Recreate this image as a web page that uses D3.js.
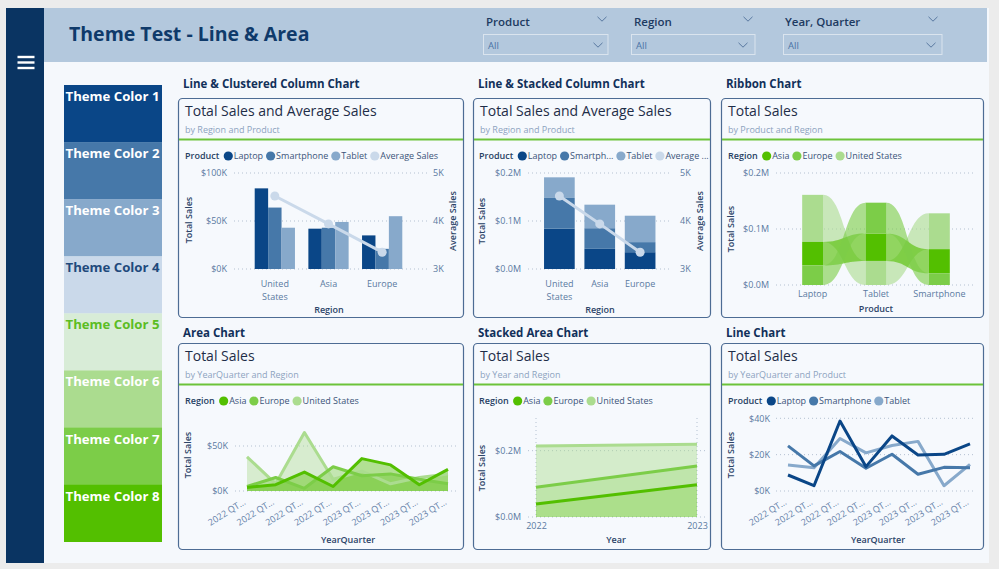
<!DOCTYPE html>
<html><head><meta charset="utf-8">
<script src="https://cdn.jsdelivr.net/npm/d3@7"></script>
<style>
body{margin:0;background:#ececec;overflow:hidden;}
svg text{font-family:"Open Sans","Segoe UI",sans-serif;}
</style></head><body>
<svg id="c" width="999" height="569"></svg>
<script>
// ---------------- DATA ----------------
const themeColors = ["#0a4687","#4678a9","#87a9cb","#cad9ea","#d8ecd7","#abdc8f","#7ccd48","#53bf00"];
const themeLabels = ["Theme Color 1","Theme Color 2","Theme Color 3","Theme Color 4","Theme Color 5","Theme Color 6","Theme Color 7","Theme Color 8"];
const regions = ["United States","Asia","Europe"];
const products = ["Laptop","Smartphone","Tablet"];
// Total sales (K$) by region [United States, Asia, Europe]
const salesLaptop = [84, 42, 35];
const salesSmartphone = [64, 43, 21];
const salesTablet = [43, 49, 55];
// Average sales (K) by region
const avgSales = [4.52, 3.94, 3.35];
const ribbonProducts = ["Laptop","Tablet","Smartphone"];
const quarterKeys = ["2022 Q1","2022 Q2","2022 Q3","2022 Q4","2023 Q1","2023 Q2","2023 Q3","2023 Q4"];
const quarterTickLabels = ["2022 QT...","2022 QT...","2022 QT...","2022 QT...","2023 QT...","2023 QT...","2023 QT...","2023 QT..."];
// Area chart, total sales (K$) by quarter
const areaAsia = [4, 7, 21, 5, 36, 29, 7, 24];
const areaEurope = [5, 15, 3, 27, 17, 19, 13, 8];
const areaUS = [38, 8, 65, 13, 22, 8, 15, 19];
// Stacked area, total sales (K$) by year
const years = [2022, 2023];
const yearAsia = [39, 97];
const yearEurope = [51, 57];
const yearUS = [124, 65];
// Line chart, total sales (K$) by quarter
const lineLaptop = [8.8, 2.9, 38.5, 13.4, 30.3, 19.8, 20.2, 25.9];
const lineSmartphone = [24.8, 13.8, 21.7, 12.5, 20.2, 9.2, 13.0, 12.8];
const lineTablet = [14.3, 12.8, 28.9, 21.0, 25.0, 27.3, 2.9, 14.7];

// ---------------- HELPERS ----------------
const FONT = '"Open Sans","Segoe UI",sans-serif';
const C = themeColors;
const productColor = {Laptop:C[0], Smartphone:C[1], Tablet:C[2]};
const regionColor = {"Asia":C[7], "Europe":C[6], "United States":C[5]};
const byProduct = {Laptop:salesLaptop, Smartphone:salesSmartphone, Tablet:salesTablet};
const TICK = "#5a79a1", AXT = "#2c4468";
const svg = d3.select("#c");

function txt(g, x, y, s, o={}) {
  const t = g.append("text").attr("x",x).attr("y",y).text(s)
    .attr("font-size", o.size||9).attr("fill", o.fill||"#333")
    .attr("font-weight", o.weight||400);
  if (o.anchor) t.attr("text-anchor", o.anchor);
  if (o.rotate) t.attr("transform", `rotate(${o.rotate},${x},${y})`);
  return t;
}
function card(x0,y0,x1,y1,secY,section,title,subtitle){
  txt(svg, x0+5, secY, section, {size:11.5, weight:700, fill:"#12305a"});
  svg.append("rect").attr("x",x0+0.5).attr("y",y0+0.5).attr("width",x1-x0-1).attr("height",y1-y0-1)
    .attr("rx",4).attr("fill","#f6f9fd").attr("stroke","#4d6c94").attr("stroke-width",1.2);
  txt(svg, x0+7, y0+18, title, {size:14, fill:"#1e2d48"});
  txt(svg, x0+7, y0+35, subtitle, {size:9, fill:"#8da3bf"});
  svg.append("line").attr("x1",x0+1).attr("x2",x1-1).attr("y1",y0+41.5).attr("y2",y0+41.5)
    .attr("stroke","#6cc33a").attr("stroke-width",2);
}
function legend(x, y, title, items){
  const t = txt(svg, x, y+3.2, title, {size:9, weight:600, fill:"#263f63"});
  let cx = x + t.node().getComputedTextLength() + 9;
  items.forEach(([label,color])=>{
    svg.append("circle").attr("cx",cx).attr("cy",y).attr("r",4.6).attr("fill",color);
    const tt = txt(svg, cx+5.5, y+3.2, label, {size:9, fill:"#3b5479"});
    cx = cx + 5.5 + tt.node().getComputedTextLength() + 7.5;
  });
}
function grid(ys, x1, x2){
  ys.forEach(y=> svg.append("line").attr("x1",x1).attr("x2",x2).attr("y1",y).attr("y2",y)
    .attr("stroke","#b4c1d1").attr("stroke-width",1).attr("stroke-dasharray","1,3"));
}
function styleAxis(sel){
  sel.attr("font-family",FONT).attr("font-size",9);
  sel.select(".domain").remove();
  sel.selectAll(".tick line").remove();
  sel.selectAll("text").attr("fill",TICK);
}
function wrap(texts, width){
  texts.each(function(){
    const t = d3.select(this);
    if (this.getComputedTextLength() <= width) return;
    const words = t.text().split(/\s+/);
    const y = t.attr("y"), dy = parseFloat(t.attr("dy"));
    t.text(null);
    words.forEach((w,i)=> t.append("tspan").attr("x",0).attr("y",y).attr("dy",(dy+i*1.45)+"em").text(w));
  });
}
function yTitle(x, y, s){ txt(svg, x, y, s, {size:9, weight:600, fill:AXT, anchor:"middle", rotate:-90}); }
function xTitle(x, y, s){ txt(svg, x, y, s, {size:9, weight:600, fill:AXT, anchor:"middle"}); }
function rotatedQuarterAxis(scale, yAxis){
  const a = svg.append("g").attr("transform",`translate(0,${yAxis})`)
    .call(d3.axisBottom(scale).tickSize(0).tickFormat((d,i)=>quarterTickLabels[i]));
  styleAxis(a);
  a.selectAll("text").attr("y",0).attr("dy","0.35em").attr("text-anchor","end")
    .attr("transform","translate(-3,10) rotate(-32)").attr("fill","#6683aa");
}

// ---------------- PAGE FRAME ----------------
svg.append("rect").attr("width",999).attr("height",569).attr("fill","#ececec");
svg.append("rect").attr("x",6).attr("y",8).attr("width",983).attr("height",555).attr("fill","#f5f8fc");
svg.append("rect").attr("x",44).attr("y",8).attr("width",943).attr("height",54).attr("fill","#b3c8dd");
svg.append("rect").attr("x",6).attr("y",8).attr("width",38).attr("height",555).attr("fill","#0a3462");
[57,62.5,68].forEach(y=> svg.append("line").attr("x1",17.5).attr("x2",34.5).attr("y1",y).attr("y2",y)
  .attr("stroke","#ffffff").attr("stroke-width",2.4));
txt(svg, 69, 41, "Theme Test - Line & Area", {size:19.5, weight:700, fill:"#0f3a6a"});

function chevron(cx, cy){
  svg.append("path").attr("d",`M${cx-4.5},${cy-2.2}L${cx},${cy+2.2}L${cx+4.5},${cy-2.2}`)
    .attr("fill","none").attr("stroke","#5878a0").attr("stroke-width",1);
}
const slicers = [
  {label:"Product", lx:486, lc:602, bx:483.5, bw:124.5, bc:598},
  {label:"Region", lx:634, lc:748, bx:631.5, bw:123.5, bc:743},
  {label:"Year, Quarter", lx:785, lc:933, bx:783.5, bw:158.5, bc:931}
];
slicers.forEach(s=>{
  txt(svg, s.lx, 26, s.label, {size:11.5, weight:600, fill:"#1d3a61"});
  chevron(s.lc, 19);
  svg.append("rect").attr("x",s.bx).attr("y",34.5).attr("width",s.bw).attr("height",20)
    .attr("fill","none").attr("stroke","#dae4ee").attr("stroke-width",1);
  txt(svg, s.bx+4.5, 48.5, "All", {size:9.5, fill:"#4a73a5"});
  chevron(s.bc, 45);
});

// ---------------- THEME SWATCHES ----------------
const swH = (541.7-85)/8;
themeColors.forEach((c,i)=>{
  svg.append("rect").attr("x",64).attr("y",85+i*swH).attr("width",98).attr("height",swH+0.3).attr("fill",c);
  const tc = i===3 ? "#1f4a7c" : (i===4 ? "#5cbd23" : "#ffffff");
  txt(svg, 65.5, 85+i*swH+16, themeLabels[i], {size:13.2, weight:700, fill:tc});
});

// ---------------- CHART 1: Line & Clustered Column ----------------
card(178,98,464,318, 87.5, "Line & Clustered Column Chart","Total Sales and Average Sales","by Region and Product");
legend(185,156,"Product",[["Laptop",C[0]],["Smartphone",C[1]],["Tablet",C[2]],["Average Sales",C[3]]]);
{
  const x = d3.scaleBand().domain(regions).range([248,409]).paddingInner(0.25).paddingOuter(0.125);
  const xs = d3.scaleBand().domain(products).range([0,x.bandwidth()]);
  const y = d3.scaleLinear().domain([0,100]).range([269,173]);
  const yr = d3.scaleLinear().domain([3,5]).range([269,173]);
  grid([0,50,100].map(y), 234, 428);
  styleAxis(svg.append("g").attr("transform","translate(230,0)")
    .call(d3.axisLeft(y).tickValues([0,50,100]).tickFormat(d=>`$${d}K`).tickSize(0).tickPadding(3)));
  styleAxis(svg.append("g").attr("transform","translate(430,0)")
    .call(d3.axisRight(yr).tickValues([3,4,5]).tickFormat(d=>`${d}K`).tickSize(0).tickPadding(3)));
  products.forEach(p=>{
    svg.append("g").selectAll("rect").data(regions).join("rect")
      .attr("x",r=>x(r)+xs(p)).attr("width",xs.bandwidth())
      .attr("y",(r,i)=>y(byProduct[p][i])).attr("height",(r,i)=>y(0)-y(byProduct[p][i]))
      .attr("fill",productColor[p]);
  });
  const line = d3.line().x((d,i)=>x(regions[i])+x.bandwidth()/2).y(d=>yr(d));
  svg.append("path").attr("d",line(avgSales)).attr("fill","none").attr("stroke",C[3]).attr("stroke-width",3);
  svg.append("g").selectAll("circle").data(avgSales).join("circle")
    .attr("cx",(d,i)=>x(regions[i])+x.bandwidth()/2).attr("cy",d=>yr(d)).attr("r",4.5).attr("fill",C[3]);
  const ax = svg.append("g").attr("transform","translate(0,269)").call(d3.axisBottom(x).tickSize(0).tickPadding(11.6));
  styleAxis(ax); wrap(ax.selectAll("text"), x.step()-4);
  xTitle(329, 312.5, "Region");
  yTitle(191.5, 220, "Total Sales");
  yTitle(456, 221, "Average Sales");
}

// ---------------- CHART 2: Line & Stacked Column ----------------
card(473,98,711,318, 87.5, "Line & Stacked Column Chart","Total Sales and Average Sales","by Region and Product");
legend(479,156,"Product",[["Laptop",C[0]],["Smartph...",C[1]],["Tablet",C[2]],["Average ...",C[3]]]);
{
  const x = d3.scaleBand().domain(regions).range([540,659.5]).paddingInner(0.24).paddingOuter(0.1);
  const y = d3.scaleLinear().domain([0,200]).range([269,173]);
  const yr = d3.scaleLinear().domain([3,5]).range([269,173]);
  grid([0,100,200].map(y), 528, 672);
  styleAxis(svg.append("g").attr("transform","translate(524,0)")
    .call(d3.axisLeft(y).tickValues([0,100,200]).tickFormat(d=>`$${(d/1000).toFixed(1)}M`).tickSize(0).tickPadding(3)));
  styleAxis(svg.append("g").attr("transform","translate(677,0)")
    .call(d3.axisRight(yr).tickValues([3,4,5]).tickFormat(d=>`${d}K`).tickSize(0).tickPadding(3)));
  const rows = regions.map((r,i)=>({region:r, Laptop:salesLaptop[i], Smartphone:salesSmartphone[i], Tablet:salesTablet[i]}));
  const series = d3.stack().keys(products)(rows);
  series.forEach(s=>{
    svg.append("g").selectAll("rect").data(s).join("rect")
      .attr("x",d=>x(d.data.region)).attr("width",x.bandwidth())
      .attr("y",d=>y(d[1])).attr("height",d=>y(d[0])-y(d[1])).attr("fill",productColor[s.key]);
  });
  const line = d3.line().x((d,i)=>x(regions[i])+x.bandwidth()/2).y(d=>yr(d));
  svg.append("path").attr("d",line(avgSales)).attr("fill","none").attr("stroke",C[3]).attr("stroke-width",3);
  svg.append("g").selectAll("circle").data(avgSales).join("circle")
    .attr("cx",(d,i)=>x(regions[i])+x.bandwidth()/2).attr("cy",d=>yr(d)).attr("r",4.5).attr("fill",C[3]);
  const ax = svg.append("g").attr("transform","translate(0,269)").call(d3.axisBottom(x).tickSize(0).tickPadding(11.6));
  styleAxis(ax); wrap(ax.selectAll("text"), x.step()-4);
  xTitle(600, 312.5, "Region");
  yTitle(485, 221, "Total Sales");
  yTitle(703, 221, "Average Sales");
}

// ---------------- CHART 3: Ribbon ----------------
card(721,98,984,318, 87.5, "Ribbon Chart","Total Sales","by Product and Region");
legend(728,156,"Region",[["Asia",C[7]],["Europe",C[6]],["United States",C[5]]]);
{
  const x = d3.scaleBand().domain(ribbonProducts).range([780,972]).paddingInner(0.67).paddingOuter(0.35);
  const y = d3.scaleLinear().domain([0,200]).range([285,173]);
  grid([0,100,200].map(y), 776, 976);
  styleAxis(svg.append("g").attr("transform","translate(772,0)")
    .call(d3.axisLeft(y).tickValues([0,100,200]).tickFormat(d=>`$${(d/1000).toFixed(1)}M`).tickSize(0).tickPadding(3)));
  const stacks = ribbonProducts.map(p=>{
    const vals = regions.map((r,i)=>({r, v:byProduct[p][i]})).sort((a,b)=>a.v-b.v);
    let acc = 0; const m = {};
    vals.forEach(d=>{ m[d.r] = [acc, acc+d.v]; acc += d.v; });
    return m;
  });
  const bw = x.bandwidth();
  for (let i=0;i<ribbonProducts.length-1;i++){
    const xa = x(ribbonProducts[i])+bw, xb = x(ribbonProducts[i+1]), xm = (xa+xb)/2;
    ["United States","Asia","Europe"].forEach(r=>{
      const [a0,a1] = stacks[i][r], [b0,b1] = stacks[i+1][r];
      const p = `M${xa},${y(a1)}C${xm},${y(a1)} ${xm},${y(b1)} ${xb},${y(b1)}L${xb},${y(b0)}C${xm},${y(b0)} ${xm},${y(a0)} ${xa},${y(a0)}Z`;
      svg.append("path").attr("d",p).attr("fill",regionColor[r]).attr("fill-opacity",0.62);
    });
  }
  ribbonProducts.forEach((p,i)=>{
    regions.forEach(r=>{
      const [v0,v1] = stacks[i][r];
      svg.append("rect").attr("x",x(p)).attr("width",bw).attr("y",y(v1)).attr("height",y(v0)-y(v1)).attr("fill",regionColor[r]);
    });
  });
  const ax = svg.append("g").attr("transform","translate(0,285)").call(d3.axisBottom(x).tickSize(0).tickPadding(6));
  styleAxis(ax);
  xTitle(876, 312, "Product");
  yTitle(734, 229, "Total Sales");
}

// ---------------- CHART 4: Area ----------------
card(178,343,464,550, 336.5, "Area Chart","Total Sales","by YearQuarter and Region");
legend(185,401,"Region",[["Asia",C[7]],["Europe",C[6]],["United States",C[5]]]);
{
  const x = d3.scalePoint().domain(quarterKeys).range([247,448]);
  const y = d3.scaleLinear().domain([0,50]).range([491,446]);
  grid([0,50].map(y), 235, 458);
  styleAxis(svg.append("g").attr("transform","translate(231,0)")
    .call(d3.axisLeft(y).tickValues([0,50]).tickFormat(d=>`$${d}K`).tickSize(0).tickPadding(3)));
  const sers = [["United States",areaUS],["Europe",areaEurope],["Asia",areaAsia]];
  const area = d3.area().x((d,i)=>x(quarterKeys[i])).y0(y(0)).y1(d=>y(d));
  const line = d3.line().x((d,i)=>x(quarterKeys[i])).y(d=>y(d));
  sers.forEach(([r,v])=> svg.append("path").attr("d",area(v)).attr("fill",regionColor[r]).attr("fill-opacity",0.42));
  sers.forEach(([r,v])=> svg.append("path").attr("d",line(v)).attr("fill","none").attr("stroke",regionColor[r]).attr("stroke-width",3).attr("stroke-linejoin","round"));
  rotatedQuarterAxis(x, 491);
  xTitle(348, 543, "YearQuarter");
  yTitle(191, 455, "Total Sales");
}

// ---------------- CHART 5: Stacked Area ----------------
card(473,343,711,550, 336.5, "Stacked Area Chart","Total Sales","by Year and Region");
legend(479,401,"Region",[["Asia",C[7]],["Europe",C[6]],["United States",C[5]]]);
{
  const x = d3.scalePoint().domain(years).range([536,697]);
  const y = d3.scaleLinear().domain([0,300]).range([517,417.5]);
  grid([0,200].map(y), 528, 705);
  years.forEach(yr=> svg.append("line").attr("x1",x(yr)).attr("x2",x(yr)).attr("y1",418).attr("y2",517)
    .attr("stroke","#b4c1d1").attr("stroke-dasharray","1,3"));
  styleAxis(svg.append("g").attr("transform","translate(524,0)")
    .call(d3.axisLeft(y).tickValues([0,200]).tickFormat(d=>`$${(d/1000).toFixed(1)}M`).tickSize(0).tickPadding(3)));
  const rows = years.map((yr,i)=>({year:yr, "Asia":yearAsia[i], "Europe":yearEurope[i], "United States":yearUS[i]}));
  const series = d3.stack().keys(["Asia","Europe","United States"])(rows);
  const area = d3.area().x(d=>x(d.data.year)).y0(d=>y(d[0])).y1(d=>y(d[1]));
  const line = d3.line().x(d=>x(d.data.year)).y(d=>y(d[1]));
  series.forEach(s=> svg.append("path").attr("d",area(s)).attr("fill",regionColor[s.key]).attr("fill-opacity",0.45));
  series.forEach(s=> svg.append("path").attr("d",line(s)).attr("fill","none").attr("stroke",regionColor[s.key]).attr("stroke-width",3));
  const ax = svg.append("g").attr("transform","translate(0,517)").call(d3.axisBottom(x).tickSize(0).tickPadding(5.3).tickFormat(d3.format("d")));
  styleAxis(ax);
  xTitle(616, 543, "Year");
  yTitle(485, 468, "Total Sales");
}

// ---------------- CHART 6: Line ----------------
card(721,343,984,550, 336.5, "Line Chart","Total Sales","by YearQuarter and Product");
legend(728,401,"Product",[["Laptop",C[0]],["Smartphone",C[1]],["Tablet",C[2]]]);
{
  const x = d3.scalePoint().domain(quarterKeys).range([788,970]);
  const y = d3.scaleLinear().domain([0,40]).range([491,418.3]);
  grid([0,20,40].map(y), 776, 975);
  styleAxis(svg.append("g").attr("transform","translate(773,0)")
    .call(d3.axisLeft(y).tickValues([0,20,40]).tickFormat(d=>`$${d}K`).tickSize(0).tickPadding(3)));
  const line = d3.line().x((d,i)=>x(quarterKeys[i])).y(d=>y(d));
  [["Tablet",lineTablet],["Smartphone",lineSmartphone],["Laptop",lineLaptop]].forEach(([p,v])=>
    svg.append("path").attr("d",line(v)).attr("fill","none").attr("stroke",productColor[p]).attr("stroke-width",3).attr("stroke-linejoin","round"));
  rotatedQuarterAxis(x, 491);
  xTitle(878, 543, "YearQuarter");
  yTitle(734, 455, "Total Sales");
}
</script>
</body></html>
